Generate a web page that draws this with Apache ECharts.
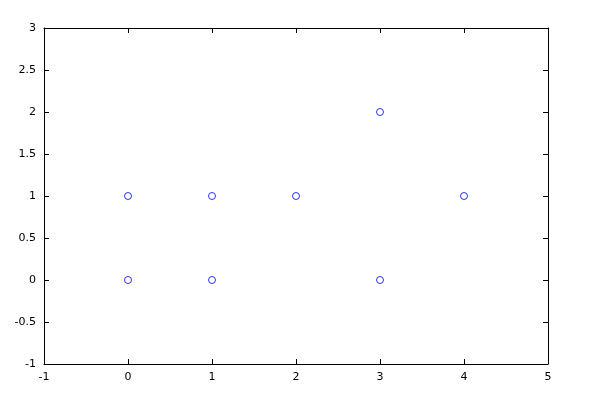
<!DOCTYPE html>
<html><head><meta charset="utf-8">
<script src="https://cdn.jsdelivr.net/npm/echarts@6/dist/echarts.min.js"></script>
<style>html,body{margin:0;padding:0;background:#fff}#c{width:596px;height:420px}</style>
</head><body><div id="c"></div>
<script>
const xValues = [0, 1, 2, 3, 4, 0, 1, 3];
const yValues = [1, 1, 1, 2, 1, 0, 0, 0];
const xTicks = [-1, 0, 1, 2, 3, 4, 5];
const yTicks = [-1, -0.5, 0, 0.5, 1, 1.5, 2, 2.5, 3];

const chart = echarts.init(document.getElementById('c'));
const ax = (pos, show, isX) => ({
  type: 'value', position: pos,
  min: -1, max: isX ? 5 : 3, interval: isX ? 1 : 0.5,
  axisLine: { show: true, onZero: false, lineStyle: { color: '#000', width: 1 } },
  axisTick: { show: true, inside: true, length: 5, lineStyle: { color: '#000' } },
  axisLabel: { show: show, color: '#000', fontSize: 11, fontFamily: 'DejaVu Sans', margin: 8 },
  splitLine: { show: false }
});
chart.setOption({
  animation: false,
  backgroundColor: '#fff',
  grid: { left: 44, right: 48, top: 28, bottom: 56 },
  xAxis: [ax('bottom', true, true), ax('top', false, true)],
  yAxis: [ax('left', true, false), ax('right', false, false)],
  series: [{
    type: 'scatter',
    data: xValues.map((x, i) => [x, yValues[i]]),
    symbol: 'circle', symbolSize: 7,
    itemStyle: { color: 'rgba(255,255,255,0)', borderColor: '#0000ff', borderWidth: 1 }
  }]
});
</script></body></html>
